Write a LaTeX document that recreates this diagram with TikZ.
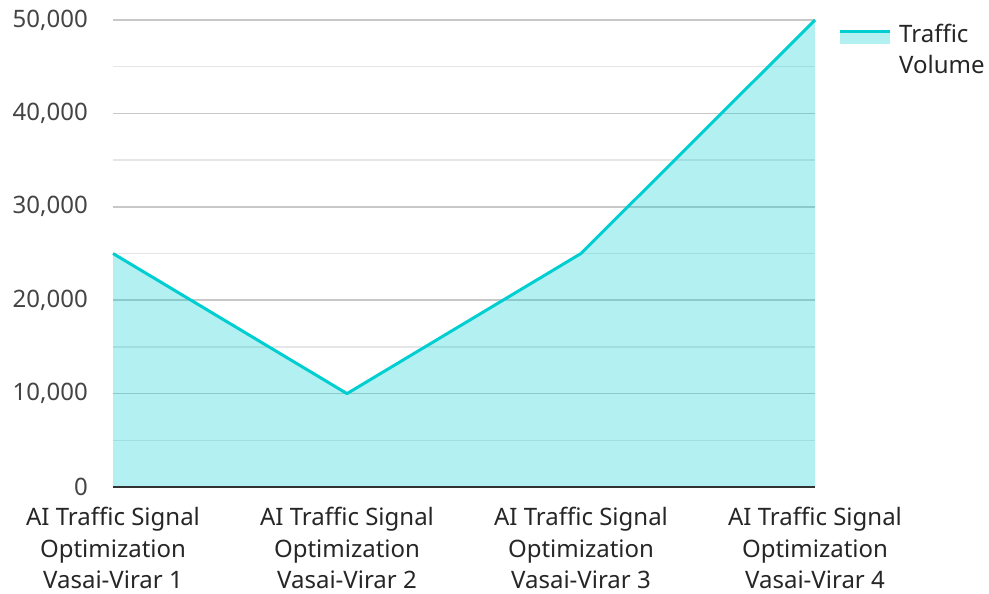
\documentclass[tikz,border=0pt]{standalone}
\usepackage{fontspec}
\setmainfont{Noto Sans}
\definecolor{turq}{HTML}{00CED1}
\definecolor{majgrid}{HTML}{C8C8C8}
\definecolor{mingrid}{HTML}{E6E6E6}
\definecolor{axistxt}{HTML}{444444}
\begin{document}
\begin{tikzpicture}[x=1pt,y=-1pt,
  ylab/.style={anchor=east,font=\fontsize{24}{28}\selectfont,text=axistxt,inner sep=0},
  xlab/.style={anchor=north,align=center,font=\fontsize{24}{31.5}\selectfont,text=black!85,inner sep=0},
  major/.style={draw=majgrid,line width=1.5pt},
  minor/.style={draw=mingrid,line width=1.5pt},
  series/.style={draw=turq,line width=3pt,line join=round},
  area/.style={fill=turq,fill opacity=0.3}]
\useasboundingbox (0,0) rectangle (989,594);
% gridlines (values in thousands; 9.34 units per thousand)
\foreach \v in {5,15,25,35,45}
  \draw[minor] (113,{487-\v*9.34}) -- (815,{487-\v*9.34});
\foreach \v in {10,20,30,40,50}
  \draw[major] (113,{487-\v*9.34}) -- (815,{487-\v*9.34});
% data points
\coordinate (p1) at (113,{487-25*9.34});
\coordinate (p2) at (347,{487-10*9.34});
\coordinate (p3) at (581,{487-25*9.34});
\coordinate (p4) at (815,{487-50*9.34});
\coordinate (b1) at (113,487);
\coordinate (b4) at (815,487);
\path[area] (b1) -- (p1) -- (p2) -- (p3) -- (p4) -- (b4) -- cycle;
\draw[series] (p1) -- (p2) -- (p3) -- (p4);
\draw[draw=black!80,line width=2pt] (b1) -- (b4);
% y labels
\node[ylab] (y0) at (88,487) {0};
\node[ylab] (y1) at (88,{487-10*9.34}) {10,000};
\node[ylab] (y2) at (88,{487-20*9.34}) {20,000};
\node[ylab] (y3) at (88,{487-30*9.34}) {30,000};
\node[ylab] (y4) at (88,{487-40*9.34}) {40,000};
\node[ylab] (y5) at (88,{487-50*9.34}) {50,000};
% x labels
\node[xlab] (x1) at (113,507) {AI Traffic Signal\\Optimization\\Vasai-Virar 1};
\node[xlab] (x2) at (347,507) {AI Traffic Signal\\Optimization\\Vasai-Virar 2};
\node[xlab] (x3) at (581,507) {AI Traffic Signal\\Optimization\\Vasai-Virar 3};
\node[xlab] (x4) at (815,507) {AI Traffic Signal\\Optimization\\Vasai-Virar 4};
% legend
\coordinate (l1) at (840,32);
\coordinate (l2) at (890,32);
\fill[turq,fill opacity=0.3] (840,32) rectangle (890,44);
\draw[series,line cap=butt] (l1) -- (l2);
\node[anchor=west,align=left,font=\fontsize{24}{31.5}\selectfont,text=black!85,inner sep=0] (leg) at (899,49) {Traffic\\Volume};
\end{tikzpicture}
\end{document}
